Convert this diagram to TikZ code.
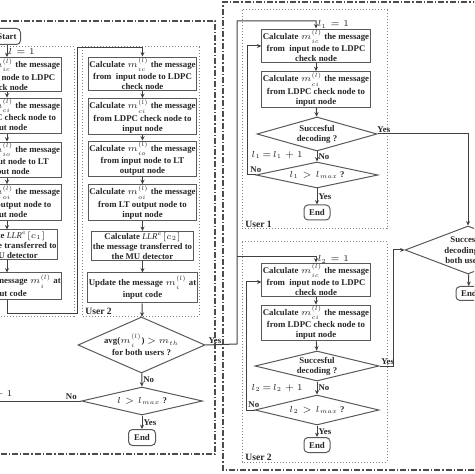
\RequirePackage{fix-cm}
\documentclass[tikz,border=0pt]{standalone}
\usepackage{fontspec}
\setmainfont{Liberation Serif}
\usetikzlibrary{shapes.geometric,arrows.meta}
\begin{document}
\begin{tikzpicture}[x=0.5pt,y=-0.5pt,
  txt/.style={font=\bfseries\fontsize{4.4}{5.1}\selectfont, text=black!85},
  box/.style={txt, draw=black!65, line width=0.5pt, minimum width=50.5pt, align=center, inner sep=0.5pt},
  dia/.style={txt, draw=black!65, line width=0.5pt, diamond, align=center, inner sep=0pt},
  term/.style={txt, draw=black!65, line width=0.5pt, rounded corners=2pt, minimum width=13.5pt, minimum height=8pt, inner sep=0.5pt},
  link/.style={draw=black!75, line width=0.5pt},
  arr/.style={link, -{Stealth[length=2.2pt,width=2pt]}},
  frame/.style={draw=black!70, line width=0.6pt, dash pattern=on 3pt off 1pt on 0.7pt off 1pt},
  group/.style={draw=black!50, line width=0.5pt, densely dotted},
  lab/.style={txt, inner sep=0.5pt},
  ulab/.style={font=\bfseries\fontsize{4.8}{5.5}\selectfont, text=black!85, inner sep=0.5pt, anchor=south west},
]
\useasboundingbox (0,0) rectangle (474,474);
\clip (0,0) rectangle (474,474);

% frames
\draw[frame] (-10,21) -- (215,21) -- (215,454) -- (-10,454);
\draw[frame] (490,2) -- (223,2) -- (223,470) -- (490,470);
% groups
\draw[group] (-60,47) rectangle (74,316);
\draw[group] (82,47) rectangle (199,316);
\draw[group] (242,10) rectangle (387,229);
\draw[group] (242,242) rectangle (387,462);
\node[ulab] (gu2) at (84,316) {User 2};
\node[ulab] (gr1) at (244,229) {User 1};
\node[ulab] (gr2) at (244,462) {User 2};

% left column (user 1)
\node[term] (start) at (7,36.5) {Start};
\node[box, minimum height=16.5pt] (L1) at (7,74.5) {Calculate $m_{ic}^{(l)}$ the message\\from input node to LDPC\\check node};
\node[box, minimum height=16pt] (L2) at (7,116) {Calculate $m_{ci}^{(l)}$ the message\\from LDPC check node to\\input node};
\node[box, minimum height=17pt] (L3) at (7,160) {Calculate $m_{io}^{(l)}$ the message\\from input node to LT\\output node};
\node[box, minimum height=15.5pt] (L4) at (7,202.5) {Calculate $m_{oi}^{(l)}$ the message\\from LT output node to\\input node};
\node[box, minimum height=15pt] (L5) at (7,245) {Calculate $\mathit{LLR}^e[c_1]$\\the message transferred to\\the MU detector};
\node[box, minimum height=13.5pt] (L6) at (7,286.5) {Update the message $m_i^{(l)}$ at\\input code};

% user 2 column
\node[box, minimum height=16pt] (U1) at (142.5,74) {Calculate $m_{ic}^{(l)}$ the message\\from \ input node to LDPC\\check node};
\node[box, minimum height=15.5pt] (U2) at (142.5,116.5) {Calculate $m_{ci}^{(l)}$ the message\\from LDPC check node to\\input node};
\node[box, minimum height=16pt] (U3) at (142.5,159) {Calculate $m_{io}^{(l)}$ the message\\from input node to LT\\output node};
\node[box, minimum height=15.5pt] (U4) at (142.5,202.5) {Calculate $m_{oi}^{(l)}$ the message\\from LT output node to\\input node};
\node[box, minimum height=14.5pt] (U5) at (142.5,246) {Calculate $\mathit{LLR}^e[c_2]$\\the message transferred to\\the MU detector};
\node[box, minimum height=15pt] (U6) at (142.5,288) {Update the message $m_i^{(l)}$ at\\input code};

\node[dia, minimum width=63.5pt, minimum height=28pt, aspect=2.3] (avg) at (141.5,345) {avg($m_i^{(l)}$) $>$ $m_{th}$\\for both users ?};
\node[dia, minimum width=60.5pt, minimum height=14pt, aspect=4.3] (lmx) at (142,401) {$l > l_{max}$ ?};
\node[term] (end) at (142,437.5) {End};

% right user 1
\node[box, minimum height=16pt] (R1) at (316,46) {Calculate $m_{ic}^{(l)}$ the message\\from \ input node to LDPC\\check node};
\node[box, minimum height=15.5pt] (R2) at (316,89.5) {Calculate $m_{ci}^{(l)}$ the message\\from LDPC check node to\\input node};
\node[dia, minimum width=60pt, minimum height=17pt, aspect=3.5] (D1) at (317,134) {Succesful\\decoding ?};
\node[dia, minimum width=61pt, minimum height=13pt, aspect=4.6] (D2) at (317,175) {$l_1 > l_{max}$ ?};
\node[term, minimum width=13pt, minimum height=7.5pt] (E1) at (317,212.5) {End};

% right user 2
\node[box, minimum height=15pt] (S1) at (316,280) {Calculate $m_{ic}^{(l)}$ the message\\from \ input node to LDPC\\check node};
\node[box, minimum height=15pt] (S2) at (316,323) {Calculate $m_{ci}^{(l)}$ the message\\from LDPC check node to\\input node};
\node[dia, minimum width=62pt, minimum height=15pt, aspect=4.1] (DS1) at (317,366) {Succesful\\decoding ?};
\node[dia, minimum width=62pt, minimum height=15pt, aspect=4.1] (DS2) at (317,410) {$l_2 > l_{max}$ ?};
\node[term, minimum width=13pt, minimum height=7.5pt] (ES) at (317,445) {End};

% far right
\node[dia, minimum width=63pt, minimum height=24pt, aspect=2.6] (FD) at (468,250) {Succesful\\decoding for\\both users ?};
\node[term, minimum width=13pt, minimum height=7pt] (FE) at (469,293.5) {End};

% left connectors
\draw[arr] (start) -- node[lab, right, pos=0.55] {$l=1$} (L1);
\draw[arr] (L1) -- (L2);
\draw[arr] (L2) -- (L3);
\draw[arr] (L3) -- (L4);
\draw[arr] (L4) -- (L5);
\draw[arr] (L5) -- (L6);
\draw[arr] (L6.south) |- (77,313) -- (77,48) -| (U1.north);
\draw[arr] (U1) -- (U2);
\draw[arr] (U2) -- (U3);
\draw[arr] (U3) -- (U4);
\draw[arr] (U4) -- (U5);
\draw[arr] (U5) -- (U6);
\draw[arr] (U6) -- (avg);
\draw[arr] (avg) -- node[lab, right] {No} (lmx);
\draw[arr] (lmx) -- node[lab, right] {Yes} (end);
\draw[link] (lmx.west) -- node[lab, above, pos=0.08] {No} (-40,401);
\node[lab, anchor=east] (inc) at (14,394) {$l=l+1$};

% to right frame
\draw[arr] (avg.east) -- node[lab, above, pos=0.3] {Yes} (237,344) -- (237,21) -| node[lab, right, pos=0.75] {$l_1=1$} (R1.north);
\draw[arr] (237,257) -| node[lab, right, pos=0.7] {$l_2=1$} (S1.north);

% right user 1 connectors
\draw[arr] (R1) -- (R2);
\draw[arr] (R2) -- (D1);
\draw[arr] (D1) -- node[lab, right] {No} (D2);
\draw[arr] (D2) -- node[lab, right] {Yes} (E1);
\draw[arr] (D2.west) -| (247,46) -- (R1.west);
\node[lab, anchor=west] (n1) at (249,170) {No};
\node[lab, anchor=west] (inc1) at (250,155) {$l_1\!=\!l_1+1$};
\draw[arr] (D1.east) -- node[lab, above, pos=0.07] {Yes} (468,134) -- (FD.north);

% right user 2 connectors
\draw[arr] (S1) -- (S2);
\draw[arr] (S2) -- (DS1);
\draw[arr] (DS1) -- node[lab, right] {No} (DS2);
\draw[arr] (DS2) -- node[lab, right] {Yes} (ES);
\draw[arr] (DS2.west) -| (246,282) -- (S1.west |- 0,282);
\node[lab, anchor=west] (n2) at (247,405) {No};
\node[lab, anchor=west] (inc2) at (250,388) {$l_2\!=\!l_2+1$};
\draw[arr] (DS1.east) -- node[lab, above, pos=0.6] {Yes} (393,366) |- (FD.west);

\draw[arr] (FD) -- (FE);
\end{tikzpicture}
\end{document}
